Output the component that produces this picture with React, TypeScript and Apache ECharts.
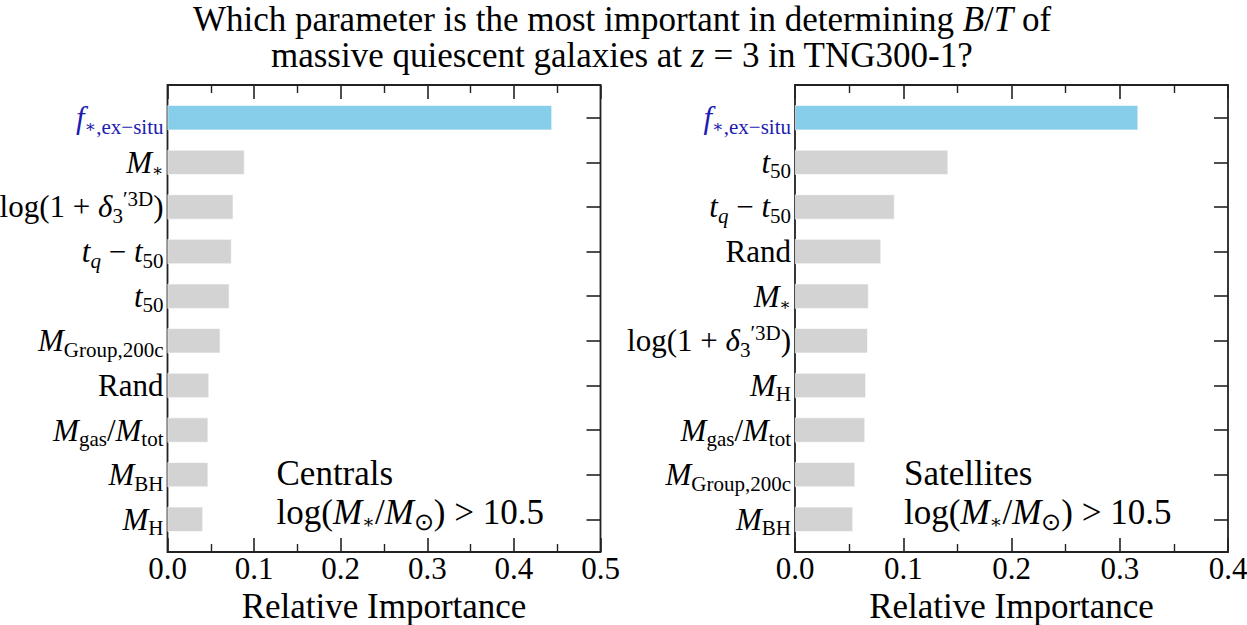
import React, { useEffect, useRef } from "react";
import * as echarts from "echarts";

// ---------- data ----------
const TITLE_LINE_1 = "{r|Which parameter is the most important in determining }{i|B}{r|/}{i|T}{r| of}";
const TITLE_LINE_2 = "{r|massive quiescent galaxies at }{i|z}{r| = 3 in TNG300-1?}";

const CENTRAL_CATEGORIES = ["f*,ex-situ", "M*", "log(1+δ'3D_3)", "tq-t50", "t50", "MGroup,200c", "Rand", "Mgas/Mtot", "MBH", "MH"];
const CENTRAL_VALUES = [0.444, 0.089, 0.076, 0.074, 0.0715, 0.061, 0.048, 0.047, 0.047, 0.041];

const SATELLITE_CATEGORIES = ["f*,ex-situ", "t50", "tq-t50", "Rand", "M*", "log(1+δ'3D_3)", "MH", "Mgas/Mtot", "MGroup,200c", "MBH"];
const SATELLITE_VALUES = [0.317, 0.1415, 0.092, 0.0795, 0.068, 0.0673, 0.0655, 0.0647, 0.0555, 0.0536];

const CENTRAL_X_MAX = 0.5;
const SATELLITE_X_MAX = 0.4;
const X_INTERVAL = 0.1;
const X_AXIS_NAME = "Relative Importance";

const CENTRAL_NOTE = ["{r|Centrals}", "{r|log(}{i|M}{st|∗}{r|/}{i|M}{s|⊙}{r|) > 10.5}"];
const SATELLITE_NOTE = ["{r|Satellites}", "{r|log(}{i|M}{st|∗}{r|/}{i|M}{s|⊙}{r|) > 10.5}"];

// label markup (style, text) tokens
const LABEL_TOKENS: Record<string, Array<[string, string]>> = {
  "f*,ex-situ": [["i", "f"], ["st", "∗"], ["s", ",ex−situ"]],
  "M*": [["i", "M"], ["st", "∗"]],
  "log(1+δ'3D_3)": [["r", "log(1 + "], ["i", "δ"], ["s", "3"], ["sup", "′3D"], ["r", ")"]],
  "tq-t50": [["i", "t"], ["si", "q"], ["r", " − "], ["i", "t"], ["s", "50"]],
  "t50": [["i", "t"], ["s", "50"]],
  "MGroup,200c": [["i", "M"], ["s", "Group,200c"]],
  "Rand": [["r", "Rand"]],
  "Mgas/Mtot": [["i", "M"], ["s", "gas"], ["r", "/"], ["i", "M"], ["s", "tot"]],
  "MBH": [["i", "M"], ["s", "BH"]],
  "MH": [["i", "M"], ["s", "H"]],
};

// ---------- styles ----------
const FONT = "Liberation Serif";
const BLACK = "#000000";
const AXIS_COLOR = "#222222";
const BLUE_LABEL = "#1c1cb0";
const BAR_TOP = "#87ceeb";
const BAR_REST = "#d3d3d3";

function richStyles(size: number, color: string, prefix: string, lineHeight?: number) {
  const sub = Math.round(size * 0.69);
  const lh = lineHeight ? { lineHeight } : {};
  return {
    [prefix + "r"]: { fontFamily: FONT, fontSize: size, color, ...lh },
    [prefix + "i"]: { fontFamily: FONT, fontSize: size, color, fontStyle: "italic", ...lh },
    [prefix + "s"]: { fontFamily: FONT, fontSize: sub, color, padding: [Math.round(size * 0.58), 0, 0, 0] },
    [prefix + "st"]: { fontFamily: "DejaVu Serif", fontSize: Math.round(size * 0.55), color, padding: [Math.round(size * 0.5), 0, 0, 0] },
    [prefix + "si"]: { fontFamily: FONT, fontSize: sub, color, fontStyle: "italic", padding: [Math.round(size * 0.58), 0, 0, 0] },
    [prefix + "sup"]: { fontFamily: FONT, fontSize: sub, color, padding: [0, 0, Math.round(size * 0.52), 0] },
  };
}

function labelMarkup(key: string, blue: boolean) {
  const toks = LABEL_TOKENS[key] || [["r", key]];
  const p = blue ? "b" : "";
  return toks.map(([s, t]) => `{${p}${s}|${t}}`).join("");
}

const TICK_FS = 31;
const NAME_FS = 35;

function panel(idx: number, left: number, categories: string[], values: number[], xMax: number) {
  const frameTop = 85;
  const frameHeight = 467;
  const width = 433;
  const dataTop = 95.4;
  const dataHeight = 446.2;
  const grids = [
    { left, top: frameTop, width, height: frameHeight, show: true, borderColor: AXIS_COLOR, borderWidth: 1.8, backgroundColor: "transparent", outerBoundsMode: "none", containLabel: false },
    { left, top: dataTop, width, height: dataHeight, show: false, outerBoundsMode: "none", containLabel: false },
  ];
  const g0 = idx * 2;
  const g1 = idx * 2 + 1;
  const tick = { show: true, inside: true, length: 14, lineStyle: { color: AXIS_COLOR, width: 1.6 } };
  const minor = { show: true, splitNumber: 2, length: 8, lineStyle: { color: AXIS_COLOR, width: 1.4 } };
  const xAxes = [
    {
      type: "value", gridIndex: g0, position: "bottom", min: 0, max: xMax, interval: X_INTERVAL,
      axisLine: { show: false }, axisTick: tick, minorTick: minor, splitLine: { show: false }, minorSplitLine: { show: false },
      axisLabel: { fontFamily: FONT, fontSize: TICK_FS, color: BLACK, margin: 1, formatter: (v: number) => v.toFixed(1) },
      name: X_AXIS_NAME, nameLocation: "middle", nameGap: 36,
      nameTextStyle: { fontFamily: FONT, fontSize: NAME_FS, color: BLACK, lineHeight: 30 },
    },
    {
      type: "value", gridIndex: g0, position: "top", min: 0, max: xMax, interval: X_INTERVAL,
      axisLine: { show: false }, axisTick: tick, minorTick: minor, splitLine: { show: false },
      axisLabel: { show: false },
    },
    { type: "value", gridIndex: g1, min: 0, max: xMax, show: false },
  ];
  const rich = { ...richStyles(TICK_FS, BLACK, ""), ...richStyles(TICK_FS, BLUE_LABEL, "b") };
  const yAxes = [
    { type: "value", gridIndex: g0, show: false, min: 0, max: 1 },
    {
      type: "category", gridIndex: g1, position: "left", inverse: true, data: categories,
      axisLine: { show: false }, axisTick: { ...tick, alignWithLabel: true },
      axisLabel: {
        interval: 0, margin: 4, color: BLACK, fontFamily: FONT, fontSize: TICK_FS,
        formatter: (v: string, i: number) => labelMarkup(v, i === 0), rich,
      },
    },
    {
      type: "category", gridIndex: g1, position: "right", inverse: true, data: categories,
      axisLine: { show: false }, axisTick: { ...tick, alignWithLabel: true }, axisLabel: { show: false },
    },
  ];
  return { grids, xAxes, yAxes, categories, values };
}

function noteGraphic(x: number, lines: string[]) {
  const rich = richStyles(NAME_FS, BLACK, "");
  return [
    { type: "text", x, y: 473.5, style: { text: lines[0], rich, align: "left", verticalAlign: "middle", fill: BLACK, fontFamily: FONT, fontSize: NAME_FS } },
    { type: "text", x, y: 512, style: { text: lines[1], rich, align: "left", verticalAlign: "middle", fill: BLACK, fontFamily: FONT, fontSize: NAME_FS } },
  ];
}

export default function App() {
  const ref = useRef<HTMLDivElement>(null);
  useEffect(() => {
    if (!ref.current) return;
    const chart = echarts.init(ref.current, undefined, { renderer: "svg" });
    const panels = [
      panel(0, 167.5, CENTRAL_CATEGORIES, CENTRAL_VALUES, CENTRAL_X_MAX),
      panel(1, 795, SATELLITE_CATEGORIES, SATELLITE_VALUES, SATELLITE_X_MAX),
    ];
    const grid: any[] = [];
    const xAxis: any[] = [];
    const yAxis: any[] = [];
    const series: any[] = [];
    panels.forEach((p) => {
      const xBase = xAxis.length;
      const yBase = yAxis.length;
      grid.push(...p.grids);
      xAxis.push(...p.xAxes);
      yAxis.push(...p.yAxes);
      series.push({
        type: "bar",
        xAxisIndex: xBase + 2,
        yAxisIndex: yBase + 1,
        barWidth: 25,
        data: p.values.map((v, i) => ({ value: v, itemStyle: { color: i === 0 ? BAR_TOP : BAR_REST } })),
        itemStyle: { borderColor: "#ffffff", borderWidth: 0.6 },
      });
    });
    const titleRich = richStyles(35, BLACK, "", 36);
    chart.setOption({
      animation: false,
      backgroundColor: "#ffffff",
      grid,
      xAxis,
      yAxis,
      series,
      graphic: [
        {
          type: "text", x: 622, y: 37,
          style: { text: TITLE_LINE_1 + "\n" + TITLE_LINE_2, rich: titleRich, align: "center", verticalAlign: "middle", fill: BLACK, fontFamily: FONT, fontSize: 35, lineHeight: 36 },
        },
        ...noteGraphic(276.5, CENTRAL_NOTE),
        ...noteGraphic(904, SATELLITE_NOTE),
      ],
    });
    return () => chart.dispose();
  }, []);
  return <div ref={ref} style={{ position: "fixed", left: 0, top: 0, width: 1247, height: 625, background: "#fff" }} />;
}
